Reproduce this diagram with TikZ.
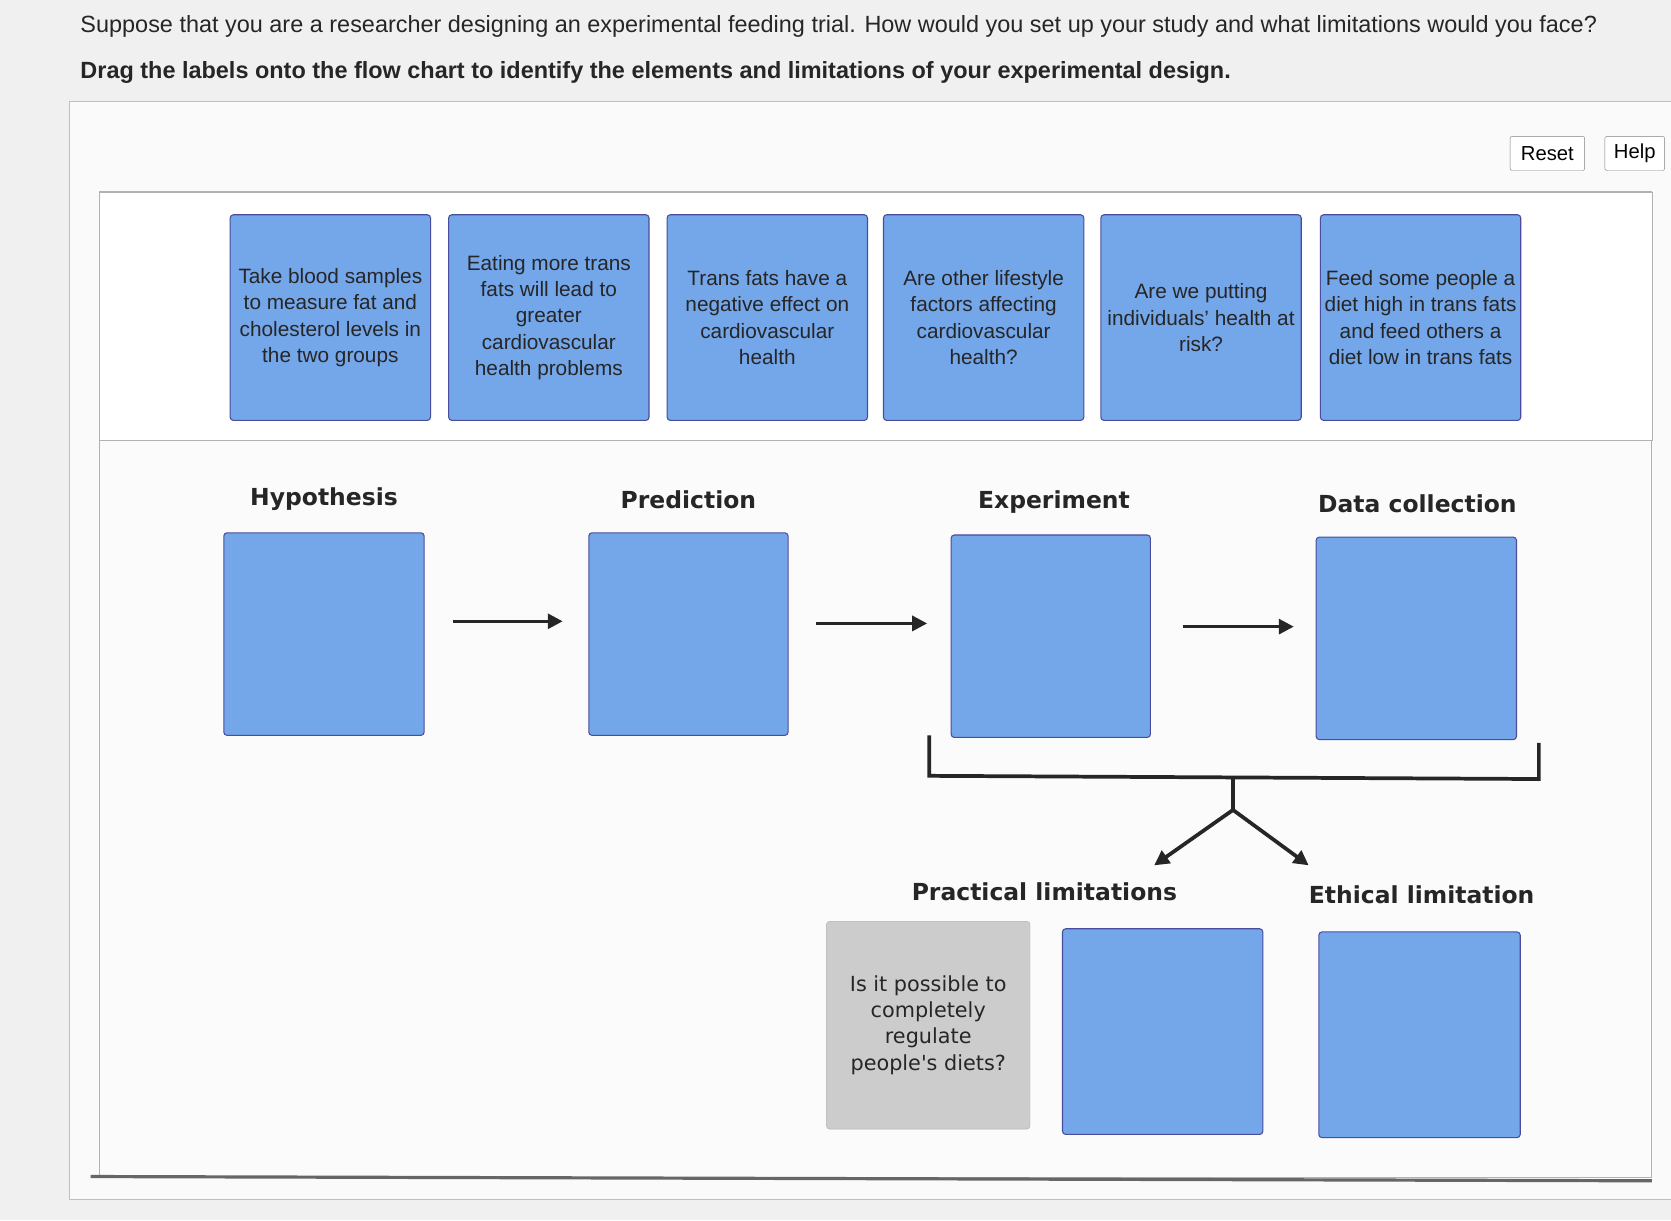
\documentclass[tikz,border=0pt]{standalone}
\usepackage{fontspec}
\usetikzlibrary{arrows.meta}
\setmainfont{Liberation Sans}
\newfontfamily\bfam{DejaVu Sans}
\begin{document}
\begin{tikzpicture}[x=1pt,y=-1pt,
 tile/.style={draw=blue!45!black!70,fill=bluef,rounded corners=3pt,line width=1pt,align=center,font=\fontsize{19.5}{24.5}\selectfont,text=black!85},
 head/.style={font=\bfam\bfseries\fontsize{22}{26}\selectfont,text=black!85},
 arr/.style={-{Triangle[length=14pt,width=14pt]},line width=3pt,black!85},
 btn/.style={draw=gray,fill=white,rounded corners=2pt,font=\fontsize{19}{22}\selectfont}]
\definecolor{bluef}{HTML}{74A6EA}
\useasboundingbox (0,0) rectangle (1568,1145);
\fill[gray!12] (0,0) rectangle (1568,1145);
\node[anchor=west,font=\fontsize{22}{26}\selectfont,text=black!85] (t1) at (72,25) {Suppose that you are a researcher designing an experimental feeding trial. How would you set up your study and what limitations would you face?};
\node[anchor=west,font=\bfseries\fontsize{22}{26}\selectfont,text=black!85] (t2) at (72,68) {Drag the labels onto the flow chart to identify the elements and limitations of your experimental design.};
\draw[gray!50,fill=gray!4] (65,95) rectangle (1568,1125);
\node[btn,minimum width=70,minimum height=32] (reset) at (1452,144) {Reset};
\node[btn,minimum width=56,minimum height=32] (help) at (1534,144) {Help};
\draw[gray!60,fill=gray!3,line width=1pt] (93,180) rectangle (1550,1105);
\draw[gray!60,fill=white] (93,180) rectangle (1550,413);
\draw[black!60,line width=3pt] (85,1104) -- (1550,1108);
\foreach \n/\x/\t in {a/310/{Take blood samples\\to measure fat and\\cholesterol levels in\\the two groups},
 b/515/{Eating more trans\\fats will lead to\\greater\\cardiovascular\\health problems},
 c/720/{Trans fats have a\\negative effect on\\cardiovascular\\health},
 d/923/{Are other lifestyle\\factors affecting\\cardiovascular\\health?},
 e/1127/{Are we putting\\individuals' health at\\risk?},
 f/1333/{Feed some people a\\diet high in trans fats\\and feed others a\\diet low in trans fats}}
 \node[tile,minimum width=188,minimum height=193,inner sep=1pt] (\n) at (\x,298) {\t};
\node[head] (h1) at (304,468) {Hypothesis};
\node[head] (h2) at (646,469) {Prediction};
\node[head] (h3) at (989,471) {Experiment};
\node[head] (h4) at (1330,473) {Data collection};
\node[tile,minimum width=188,minimum height=190] (b1) at (304,595) {};
\node[tile,minimum width=187,minimum height=190] (b2) at (646,595) {};
\node[tile,minimum width=187,minimum height=190] (b3) at (986,597) {};
\node[tile,minimum width=188,minimum height=190] (b4) at (1329,599) {};
\draw[arr] (425,583) -- (528,583);
\draw[arr] (766,585) -- (870,585);
\draw[arr] (1110,588) -- (1214,588);
\coordinate (j) at (1157,729);
\coordinate (s) at (1157,760);
\coordinate (la) at (1083,812);
\coordinate (ra) at (1228,812);
\draw[line width=3.5pt,black!85] (872,690) -- (872,728) -- (1444,731) -- (1444,697);
\draw[line width=3.5pt,black!85] (j) -- (s);
\draw[arr,line width=3.5pt] (s) -- (la);
\draw[arr,line width=3.5pt] (s) -- (ra);
\node[head] (p) at (980,837) {Practical limitations};
\node[head] (et) at (1334,840) {Ethical limitation};
\node[draw=gray!60,fill=gray!40,rounded corners=3pt,minimum width=191,minimum height=195,align=center,font=\bfam\fontsize{19.5}{24.5}\selectfont,text=black!85] (g) at (871,962) {Is it possible to\\completely\\regulate\\people's diets?};
\node[tile,minimum width=188,minimum height=193] (b5) at (1091,968) {};
\node[tile,minimum width=189,minimum height=193] (b6) at (1332,971) {};
\end{tikzpicture}
\end{document}
